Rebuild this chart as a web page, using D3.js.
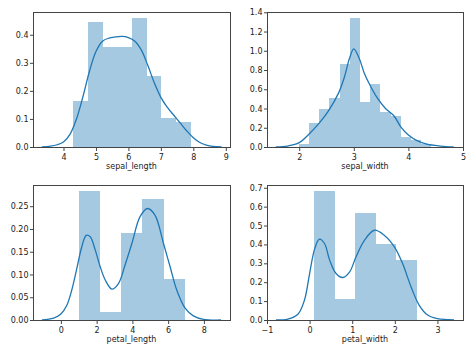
<!DOCTYPE html>
<html>
<head>
<meta charset="utf-8">
<script src="https://cdn.jsdelivr.net/npm/d3@7"></script>
<style>
  html, body { margin: 0; padding: 0; background: #fff; }
  svg { display: block; }
  text { font-family: "DejaVu Sans", sans-serif; }
</style>
</head>
<body>
<script>
// ---------- data ----------
// sepal_length
const slEdges   = [4.3, 4.75, 5.2, 5.65, 6.1, 6.55, 7.0, 7.45, 7.9];
const slDensity = [0.163, 0.444, 0.356, 0.356, 0.459, 0.252, 0.104, 0.089];
const slKdeX = [3.33, 3.6, 3.8, 4.0, 4.2, 4.4, 4.6, 4.8, 5.0, 5.2, 5.4, 5.6, 5.8, 6.0, 6.2, 6.4, 6.6, 6.8, 7.0, 7.2, 7.4, 7.6, 7.8, 8.0, 8.2, 8.4, 8.6, 8.87];
const slKdeY = [0.0, 0.003, 0.008, 0.018, 0.045, 0.10, 0.18, 0.27, 0.34, 0.377, 0.388, 0.392, 0.394, 0.39, 0.377, 0.345, 0.29, 0.228, 0.177, 0.141, 0.113, 0.085, 0.057, 0.033, 0.016, 0.007, 0.002, 0.0];
const slXTicks = [4, 5, 6, 7, 8, 9];
const slYTicks = [0.0, 0.1, 0.2, 0.3, 0.4];

// sepal_width
const swEdges   = [2.0, 2.185, 2.369, 2.554, 2.738, 2.923, 3.108, 3.292, 3.477, 3.662, 3.846, 4.031, 4.215, 4.4];
const swDensity = [0.036, 0.253, 0.397, 0.506, 0.867, 1.336, 0.469, 0.650, 0.361, 0.325, 0.108, 0.072, 0.036];
const swKdeX = [1.57, 1.79, 2.0, 2.19, 2.37, 2.53, 2.72, 2.83, 2.92, 3.0, 3.1, 3.19, 3.29, 3.43, 3.58, 3.74, 3.86, 4.0, 4.16, 4.34, 4.59, 4.83];
const swKdeY = [0.0, 0.01, 0.045, 0.14, 0.25, 0.37, 0.56, 0.73, 0.92, 1.02, 0.92, 0.77, 0.65, 0.51, 0.40, 0.32, 0.21, 0.125, 0.066, 0.03, 0.01, 0.0];
const swXTicks = [2, 3, 4, 5];
const swYTicks = [0.0, 0.2, 0.4, 0.6, 0.8, 1.0, 1.2, 1.4];

// petal_length
const plEdges   = [1.0, 2.18, 3.36, 4.54, 5.72, 6.9];
const plDensity = [0.2825, 0.0169, 0.192, 0.2655, 0.0904];
const plKdeX = [-1.06, -0.41, 0.0, 0.34, 0.61, 0.89, 1.17, 1.42, 1.64, 1.92, 2.2, 2.48, 2.85, 3.22, 3.59, 3.97, 4.43, 4.85, 5.27, 5.74, 6.11, 6.48, 6.95, 7.41, 7.97, 8.96];
const plKdeY = [0.0, 0.004, 0.013, 0.033, 0.066, 0.113, 0.161, 0.186, 0.183, 0.154, 0.117, 0.088, 0.068, 0.080, 0.121, 0.168, 0.227, 0.245, 0.23, 0.168, 0.117, 0.066, 0.026, 0.009, 0.0015, 0.0];
const plXTicks = [0, 2, 4, 6, 8];
const plYTicks = [0.0, 0.05, 0.10, 0.15, 0.20, 0.25];

// petal_width
const pwEdges   = [0.1, 0.58, 1.06, 1.54, 2.02, 2.5];
const pwDensity = [0.681, 0.111, 0.569, 0.403, 0.319];
const pwKdeX = [-0.79, -0.51, -0.27, -0.12, 0.0, 0.12, 0.23, 0.35, 0.47, 0.62, 0.78, 0.94, 1.09, 1.29, 1.52, 1.75, 1.99, 2.18, 2.38, 2.57, 2.77, 3.0, 3.39];
const pwKdeY = [0.0, 0.005, 0.032, 0.106, 0.246, 0.378, 0.428, 0.405, 0.317, 0.246, 0.225, 0.255, 0.335, 0.423, 0.475, 0.449, 0.387, 0.30, 0.176, 0.079, 0.026, 0.007, 0.0];
const pwXTicks = [-1, 0, 1, 2, 3];
const pwYTicks = [0.0, 0.1, 0.2, 0.3, 0.4, 0.5, 0.6, 0.7];

const labels = ["sepal_length", "sepal_width", "petal_length", "petal_width"];

// ---------- layout ----------
const W = 474, H = 355;
const panels = [
  { label: labels[0], edges: slEdges, dens: slDensity, kx: slKdeX, ky: slKdeY, xt: slXTicks, yt: slYTicks, xd: [3.06, 9.13], yd: [0, 0.481], yf: ".1f", box: [33, 12, 230, 147] },
  { label: labels[1], edges: swEdges, dens: swDensity, kx: swKdeX, ky: swKdeY, xt: swXTicks, yt: swYTicks, xd: [1.41, 5.0],  yd: [0, 1.403], yf: ".1f", box: [267, 12, 463, 147] },
  { label: labels[2], edges: plEdges, dens: plDensity, kx: plKdeX, ky: plKdeY, xt: plXTicks, yt: plYTicks, xd: [-1.56, 9.46], yd: [0, 0.2966], yf: ".2f", box: [33, 185, 230, 320] },
  { label: labels[3], edges: pwEdges, dens: pwDensity, kx: pwKdeX, ky: pwKdeY, xt: pwXTicks, yt: pwYTicks, xd: [-1.0, 3.6],  yd: [0, 0.7146], yf: ".1f", box: [267, 185, 463, 320] }
];

const barColor = "#a5c9e1";
const lineColor = "#1f77b4";
const spineColor = "#444";
const textColor = "#222";

const svg = d3.select("body").append("svg").attr("width", W).attr("height", H);

panels.forEach(p => {
  const [x0, y0, x1, y1] = p.box;
  const x = d3.scaleLinear().domain(p.xd).range([x0, x1]);
  const y = d3.scaleLinear().domain(p.yd).range([y1, y0]);
  const g = svg.append("g");

  // bars (one path-free group; crisp edges so adjacent bars show no seam)
  const bins = p.dens.map((d, i) => ({ a: p.edges[i], b: p.edges[i + 1], d }));
  g.append("g").attr("shape-rendering", "crispEdges")
    .selectAll("rect.bar").data(bins).enter().append("rect")
    .attr("class", "bar")
    .attr("x", d => x(d.a))
    .attr("width", d => x(d.b) - x(d.a) + 0.6)
    .attr("y", d => y(d.d))
    .attr("height", d => y(0) - y(d.d))
    .attr("fill", barColor);

  // kde
  const pts = p.kx.map((v, i) => [v, p.ky[i]]);
  g.append("path")
    .datum(pts)
    .attr("fill", "none")
    .attr("stroke", lineColor)
    .attr("stroke-width", 1.3)
    .attr("d", d3.line().x(d => x(d[0])).y(d => y(d[1])).curve(d3.curveCatmullRom.alpha(0.5)));

  // spines
  g.append("rect")
    .attr("x", x0 + 0.5).attr("y", y0 + 0.5)
    .attr("width", x1 - x0).attr("height", y1 - y0)
    .attr("fill", "none").attr("stroke", spineColor).attr("stroke-width", 1);

  // axes
  const xa = g.append("g").attr("transform", `translate(0,${y1 + 0.5})`)
    .call(d3.axisBottom(x).tickValues(p.xt).tickFormat(d3.format("d")).tickSize(3.5).tickPadding(3));
  const ya = g.append("g").attr("transform", `translate(${x0 + 0.5},0)`)
    .call(d3.axisLeft(y).tickValues(p.yt).tickFormat(d3.format(p.yf)).tickSize(3.5).tickPadding(1.5));
  [xa, ya].forEach(a => {
    a.select(".domain").remove();
    a.selectAll(".tick line").attr("stroke", spineColor);
    a.selectAll(".tick text").attr("fill", textColor).style("font-size", "8px").style("font-family", "DejaVu Sans");
  });

  // axis label
  g.append("text")
    .attr("x", (x0 + x1) / 2)
    .attr("y", y1 + 21.5)
    .attr("text-anchor", "middle")
    .attr("fill", textColor)
    .style("font-size", "8px")
    .text(p.label);
});
</script>
</body>
</html>
